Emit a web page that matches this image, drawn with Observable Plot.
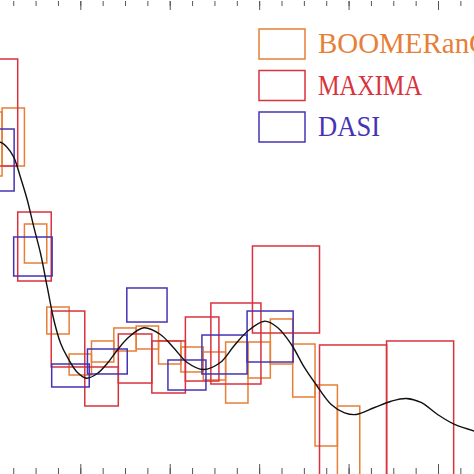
<!DOCTYPE html>
<html>
<head>
<meta charset="utf-8">
<script src="https://cdn.jsdelivr.net/npm/d3@7"></script>
<script src="https://cdn.jsdelivr.net/npm/@observablehq/plot@0.6"></script>
<style>
  html, body { margin: 0; padding: 0; background: #fff; }
  #chart { width: 474px; height: 474px; overflow: hidden; position: relative; }
  #chart svg { display: block; }
</style>
</head>
<body>
<div id="chart"></div>
<script>
// ---- Data (multipole ell, band power in uK^2) ----
const boomLo   = [175, 225, 275, 325, 375, 425, 475, 525, 575, 625, 675, 725, 775, 825, 875, 925, 975];
const boomHi   = [225, 275, 325, 375, 425, 475, 525, 575, 625, 675, 725, 775, 825, 875, 925, 975, 1025];
const boomTop  = [5957, 6023, 4114, 2748, 1975, 2189, 2403, 2435, 2189, 2090, 2008, 2172, 2172, 2551, 2139, 1465, 1119];
const boomBot  = [4904, 5068, 3472, 2304, 1629, 1843, 2024, 2057, 1810, 1679, 1547, 1168, 1580, 1810, 1267, 461, -300];

const maxLo    = [185, 260, 335, 410, 485, 560, 635, 692, 785, 935, 1085];
const maxHi    = [260, 335, 410, 485, 560, 635, 710, 804, 935, 1085, 1235];
const maxTop   = [6829, 4311, 2682, 1761, 2304, 2189, 2584, 2814, 3752, 2123, 2189];
const maxBot   = [5068, 3176, 1761, 1119, 1497, 1333, 1530, 1481, 2320, -300, -300];

const dasiLo   = [155, 251, 336, 416, 504, 596, 672, 773];
const dasiHi   = [252, 337, 420, 505, 594, 681, 773, 876];
const dasiTop  = [5677, 3900, 1810, 2057, 3061, 1876, 2287, 2682];
const dasiBot  = [4657, 3258, 1432, 1646, 2501, 1382, 1646, 1843];

const modelEll = [210, 220, 235, 250, 265, 280, 295, 310, 325, 340, 355, 370, 392, 413, 437, 459, 481, 507, 541, 578, 607, 638, 674, 712, 742, 773, 811, 840, 871, 900, 926, 960, 990, 1016, 1057, 1094, 1128, 1161, 1198, 1236, 1281];
const modelPow = [5440, 5468, 5386, 5222, 4892, 4525, 4070, 3637, 3082, 2534, 2156, 1930, 1683, 1585, 1662, 1827, 2041, 2259, 2414, 2304, 2090, 1843, 1728, 1843, 2111, 2358, 2523, 2419, 2139, 1761, 1481, 1152, 1015, 987, 1103, 1206, 1251, 1185, 987, 823, 713];

const minorTicks = d3.range(250, 1251, 50);
const majorTicks = [400, 600, 800, 1000, 1200];

const names  = ["BOOMERanG", "MAXIMA", "DASI"];
const colors = ["#e67f38", "#d9323c", "#4434b4"];

// ---- Build tables ----
const boxes = [];
boomLo.forEach((d, i) => boxes.push({exp: names[0], lo: d, hi: boomHi[i], top: boomTop[i], bot: boomBot[i]}));
maxLo.forEach((d, i)  => boxes.push({exp: names[1], lo: d, hi: maxHi[i],  top: maxTop[i],  bot: maxBot[i]}));
dasiLo.forEach((d, i) => boxes.push({exp: names[2], lo: d, hi: dasiHi[i], top: dasiTop[i], bot: dasiBot[i]}));
const model = modelEll.map((l, i) => ({ell: l, pow: modelPow[i]}));

const W = 474, H = 474;
const plot = Plot.plot({
  width: W, height: H,
  marginTop: 0, marginBottom: 0, marginLeft: 0, marginRight: 0,
  x: {domain: [220.4, 1280.5], axis: null},
  y: {domain: [0, 7800], axis: null},
  color: {domain: names, range: colors},
  style: {background: "#fff", overflow: "hidden"},
  marks: [
    Plot.rect(boxes, {x1: "lo", x2: "hi", y1: "bot", y2: "top", stroke: "exp", fill: "none", strokeWidth: 1.5, clip: true}),
    Plot.line(model, {x: "ell", y: "pow", stroke: "#111", strokeWidth: 1.4, curve: "catmull-rom", clip: true}),
    Plot.axisX({anchor: "top", ticks: minorTicks, tickSize: -5, tickFormat: () => "", stroke: "#555", strokeWidth: 1}),
    Plot.axisX({anchor: "top", ticks: majorTicks, tickSize: -9, tickFormat: () => "", stroke: "#555", strokeWidth: 1}),
    Plot.axisX({anchor: "bottom", ticks: minorTicks, tickSize: -6, tickFormat: () => "", stroke: "#555", strokeWidth: 1}),
    Plot.axisX({anchor: "bottom", ticks: majorTicks, tickSize: -10, tickFormat: () => "", stroke: "#555", strokeWidth: 1})
  ]
});
document.getElementById("chart").appendChild(plot);

// ---- Legend (inside the plot, top right) ----
const svg = d3.select(plot);
const leg = svg.append("g").attr("text-anchor", "start");
const legLen = [172, 104, 62];
names.forEach((n, i) => {
  const y0 = 29 + i * 41.5;
  leg.append("rect")
    .attr("x", 259).attr("y", y0).attr("width", 46).attr("height", 30)
    .attr("fill", "none").attr("stroke", colors[i]).attr("stroke-width", 1.5);
  leg.append("text")
    .attr("x", 318).attr("y", y0 + 24)
    .attr("text-anchor", "start")
    .attr("font-family", "Liberation Serif, Times New Roman, serif")
    .attr("font-size", 29)
    .attr("fill", colors[i])
    .attr("textLength", legLen[i])
    .attr("lengthAdjust", "spacingAndGlyphs")
    .text(n);
});
</script>
</body>
</html>
